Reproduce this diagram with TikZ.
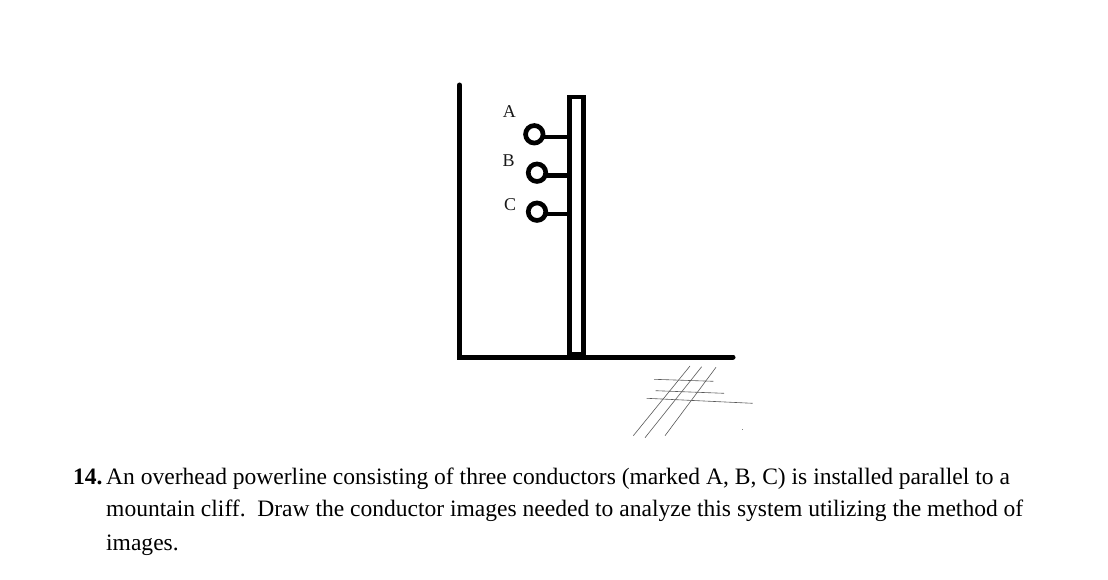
\documentclass[tikz,border=0pt]{standalone}
\usepackage{fontspec}
\setmainfont{Liberation Serif}
\begin{document}
\begin{tikzpicture}[x=1pt,y=-1pt,
  heavy/.style={draw=black,line width=4.5pt},
  base/.style={line width=5pt,draw=black,line cap=round},
  conductor/.style={circle,draw=black,line width=4.7pt,minimum size=17.5pt,inner sep=0pt,fill=white},
  hatch/.style={draw=black!65,line width=0.6pt},
  tag/.style={font=\fontsize{18}{18}\selectfont,inner sep=0pt,text=black!90},
  para/.style={anchor=base west,inner sep=0pt,font=\fontsize{23.53}{23.53}\selectfont}]
\useasboundingbox (0,0) rectangle (1108,580);
\fill[white] (0,0) rectangle (1108,580);
% wall and ground
\coordinate (walltop) at (459.5,85);
\coordinate (corner) at (459.5,357);
\coordinate (groundend) at (733,357);
\draw[base,line join=miter] (walltop) -- (corner) -- (groundend);
% pole
\draw[heavy] (569.7,354) rectangle (583.7,97);
\coordinate (pa) at (569.7,137);
\coordinate (pb) at (569.7,175.3);
\coordinate (pc) at (569.7,214);
% conductors
\node[conductor] (A) at (534.3,134.3) {};
\node[conductor] (B) at (537,172.7) {};
\node[conductor] (C) at (537,211.7) {};
\draw[heavy] (A.center |- pa) ++(9,0) -- (pa);
\draw[heavy] (B.center |- pb) ++(9,0) -- (pb);
\draw[heavy] (C.center |- pc) ++(9,0) -- (pc);
\node[tag] (la) at (509.3,112) {A};
\node[tag] (lb) at (508.5,161) {B};
\node[tag] (lc) at (510,205) {C};
% hatching
\draw[hatch] (690,366) -- (633.3,435.7);
\draw[hatch] (701.7,366.7) -- (645,437.7);
\draw[hatch] (716,367.3) -- (665,435.7);
\draw[hatch] (654,379.3) -- (713.3,381.3);
\draw[hatch] (655.7,390.7) -- (724,393.3);
\draw[hatch] (646.7,398.3) -- (752.7,403.3);
\fill[black!50] (742,428.5) rectangle (743,429.5);
% text
\node[para] (t1) at (73,484) {\makebox[33pt][l]{\textbf{14.}}An overhead powerline consisting of three conductors (marked A, B, C) is installed parallel to a};
\node[para] (t2) at (106,516) {mountain cliff.\ \ Draw the conductor images needed to analyze this system utilizing the method of};
\node[para] (t3) at (106,550) {images.};
\end{tikzpicture}
\end{document}
